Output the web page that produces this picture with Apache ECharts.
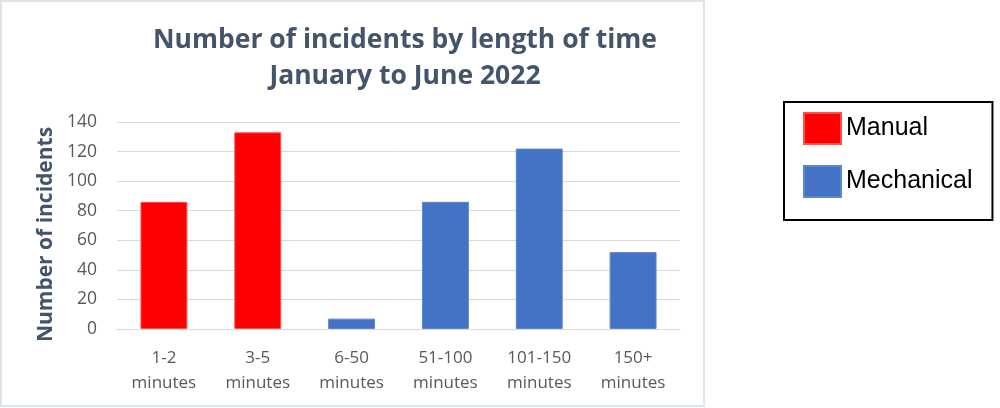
<!DOCTYPE html>
<html>
<head>
<meta charset="utf-8">
<script src="https://cdn.jsdelivr.net/npm/echarts@6/dist/echarts.min.js"></script>
<style>
html,body{margin:0;padding:0;background:#fff;}
#c{width:1000px;height:408px;}
</style>
</head>
<body>
<div id="c"></div>
<script>
var categories = ['1-2\nminutes', '3-5\nminutes', '6-50\nminutes', '51-100\nminutes', '101-150\nminutes', '150+\nminutes'];
var manualValues = [86, 133, null, null, null, null];
var mechanicalValues = [null, null, 7, 86, 122, 52];
var titleText = 'Number of incidents by length of time\nJanuary to June 2022';
var yAxisName = 'Number of incidents';
var seriesNames = ['Manual', 'Mechanical'];

var chart = echarts.init(document.getElementById('c'), null, {renderer: 'canvas'});
chart.setOption({
  backgroundColor: '#fff',
  animation: false,
  graphic: [{
    type: 'rect',
    shape: {x: 1, y: 1, width: 703, height: 405},
    style: {fill: 'none', stroke: '#DFE4EA', lineWidth: 2},
    silent: true
  }],
  title: {
    text: titleText,
    left: 400,
    textAlign: 'center',
    top: 17,
    textStyle: {
      fontFamily: 'Open Sans',
      fontWeight: 'bold',
      fontSize: 26.5,
      lineHeight: 36,
      color: '#44546A'
    }
  },
  legend: {
    orient: 'vertical',
    left: 784,
    top: 102,
    data: seriesNames,
    itemWidth: 37,
    itemHeight: 31,
    itemGap: 20,
    padding: [10, 20, 22, 19],
    borderColor: '#000',
    borderWidth: 2,
    borderRadius: 0,
    icon: 'rect',
    textStyle: {fontFamily: 'Liberation Sans', fontSize: 25, color: '#000', padding: [0, 0, 0, 0]}
  },
  grid: {left: 117, right: 320, top: 122, bottom: 79},
  xAxis: {
    type: 'category',
    data: categories,
    axisLine: {show: true, lineStyle: {color: '#D9D9D9', width: 1}},
    axisTick: {show: false},
    axisLabel: {
      color: '#595959',
      fontFamily: 'Open Sans',
      fontSize: 17,
      lineHeight: 25,
      margin: 17,
      interval: 0
    }
  },
  yAxis: {
    type: 'value',
    min: 0,
    max: 140,
    interval: 20,
    name: yAxisName,
    nameLocation: 'middle',
    nameGap: 60,
    nameTextStyle: {
      fontFamily: 'Open Sans',
      fontWeight: 'bold',
      fontSize: 21,
      color: '#44546A',
      padding: [0, 0, 0, -18]
    },
    axisLine: {show: false},
    axisTick: {show: false},
    splitLine: {lineStyle: {color: '#D9D9D9', width: 1}},
    axisLabel: {
      color: '#595959',
      fontFamily: 'Open Sans',
      fontSize: 17.5,
      margin: 20
    }
  },
  series: [
    {
      name: seriesNames[0],
      type: 'bar',
      stack: 'all',
      data: manualValues,
      barWidth: '50%',
      itemStyle: {color: '#FF0000', borderColor: '#FF5050', borderWidth: 1}
    },
    {
      name: seriesNames[1],
      type: 'bar',
      stack: 'all',
      data: mechanicalValues,
      barWidth: '50%',
      itemStyle: {color: '#4472C4', borderColor: '#5B86D0', borderWidth: 1}
    }
  ]
});
</script>
</body>
</html>
